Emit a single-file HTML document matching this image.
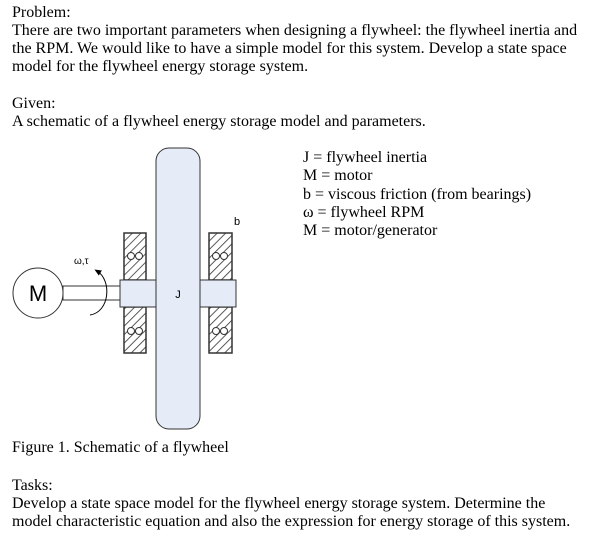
<!DOCTYPE html>
<html><head><style>
body{margin:0;width:610px;height:558px;background:#fff;position:relative;font-family:"Liberation Serif",serif;font-size:16px;color:#000;overflow:hidden}
.t{position:absolute;left:12px;white-space:nowrap;line-height:18px}
.r{position:absolute;left:303px;white-space:nowrap;line-height:18px}
</style></head><body>
<div class="t" style="top:4px">Problem:</div>
<div class="t" style="top:22px">There are two important parameters when designing a flywheel: the flywheel inertia and</div>
<div class="t" style="top:40px">the RPM. We would like to have a simple model for this system. Develop a state space</div>
<div class="t" style="top:58px">model for the flywheel energy storage system.</div>
<div class="t" style="top:95px">Given:</div>
<div class="t" style="top:113px">A schematic of a flywheel energy storage model and parameters.</div>
<div class="r" style="top:149px">J = flywheel inertia</div>
<div class="r" style="top:167px">M = motor</div>
<div class="r" style="top:186px">b = viscous friction (from bearings)</div>
<div class="r" style="top:204px">ω = flywheel RPM</div>
<div class="r" style="top:222px">M = motor/generator</div>
<div class="t" style="top:439px">Figure 1. Schematic of a flywheel</div>
<div class="t" style="top:477px">Tasks:</div>
<div class="t" style="top:495px">Develop a state space model for the flywheel energy storage system. Determine the</div>
<div class="t" style="top:513px">model characteristic equation and also the expression for energy storage of this system.</div>
<svg style="position:absolute;left:0;top:0" width="610" height="558">
<defs><pattern id="h" width="6" height="6" patternUnits="userSpaceOnUse" patternTransform="rotate(45)"><rect width="6" height="6" fill="#fff"/><line x1="0" y1="0" x2="0" y2="6" stroke="#333" stroke-width="1.6"/></pattern>
<marker id="a" markerWidth="8" markerHeight="8" refX="4" refY="4" orient="auto"><path d="M0,1 L7,4 L0,7z" fill="#000"/></marker></defs>
<g stroke="#333" stroke-width="1">
<circle cx="38" cy="293" r="25" fill="#fff"/>
<rect x="63" y="286" width="58" height="14" fill="#fff"/>
<rect x="124" y="233" width="22" height="47" fill="url(#h)" stroke-width="1.5"/>
<rect x="124" y="307" width="22" height="46" fill="url(#h)" stroke-width="1.5"/>
<rect x="209" y="233" width="23" height="47" fill="url(#h)" stroke-width="1.5"/>
<rect x="209" y="307" width="23" height="46" fill="url(#h)" stroke-width="1.5"/>
<g fill="#fff"><circle cx="131" cy="256" r="3.5"/><circle cx="139" cy="256" r="3.5"/><circle cx="131" cy="331" r="3.5"/><circle cx="139" cy="331" r="3.5"/><circle cx="216" cy="256" r="3.5"/><circle cx="224" cy="256" r="3.5"/><circle cx="216" cy="331" r="3.5"/><circle cx="224" cy="331" r="3.5"/></g>
<rect x="120" y="280" width="36" height="27" fill="#e5ecf7"/>
<rect x="200" y="280" width="36" height="27" fill="#e5ecf7"/>
<rect x="156" y="148" width="44" height="281" rx="13" fill="#e5ecf7"/>
<path d="M90,315 C110,312 112,280 97,271" fill="none" stroke="#000" marker-end="url(#a)"/>
</g>
<g font-family="Liberation Sans,sans-serif" fill="#000">
<text x="38" y="301" font-size="22" text-anchor="middle">M</text>
<text x="178" y="298" font-size="11" text-anchor="middle">J</text>
<text x="234" y="225" font-size="11">b</text>
<text x="74" y="264" font-size="10">ω,τ</text>
</g>
</svg>
</body></html>
